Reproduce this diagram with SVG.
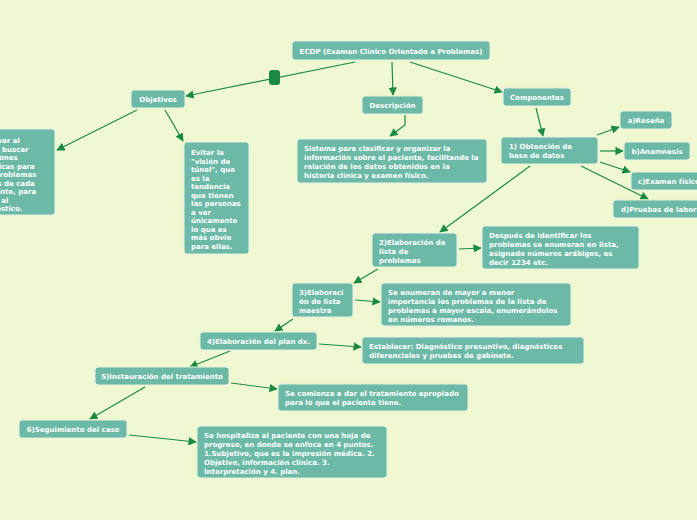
<svg xmlns="http://www.w3.org/2000/svg" width="697" height="520" viewBox="0 0 697 520">
<style>
.n{fill:#6cb9a8;stroke:#e6f1e0;stroke-width:1}
text{font-family:"DejaVu Sans",Verdana,sans-serif;font-weight:bold;font-size:7px;fill:#fff}
.e{stroke:#1a8a40;stroke-width:1.2;fill:none;marker-end:url(#a)}
</style>
<defs><marker id="a" viewBox="0 0 10 10" refX="9" refY="5" markerWidth="7" markerHeight="7" orient="auto"><path d="M0,0L10,5L0,10z" fill="#1a8a40"/></marker></defs>
<rect width="697" height="520" fill="#f0f8d2"/>
<g id="edges">
<path class="e" d="M355,62L186,96"/>
<path class="e" d="M392,62L393,95"/>
<path class="e" d="M410,62L502,92"/>
<path class="e" d="M137,110L57,150"/>
<path class="e" d="M165,110L183,141"/>
<path class="e" d="M405,115L405,125L390,136"/>
<path class="e" d="M536,108L543,136"/>
<path class="e" d="M597,135L619,127"/>
<path class="e" d="M600,151L623,151"/>
<path class="e" d="M600,162L630,172"/>
<path class="e" d="M581,166L648,199"/>
<path class="e" d="M530,166L440,232"/>
<path class="e" d="M459,249L481,248"/>
<path class="e" d="M378,269L354,283"/>
<path class="e" d="M355,300L380,302"/>
<path class="e" d="M293,319L275,331"/>
<path class="e" d="M319,344L361,347"/>
<path class="e" d="M230,351L190,367"/>
<path class="e" d="M231,383L277,389"/>
<path class="e" d="M145,387L90,419"/>
<path class="e" d="M129,435L196,442"/>
</g>
<rect x="269" y="70" width="11" height="15" rx="3" fill="#1a8a40"/>
<g id="ecop"><rect class="n" x="292" y="41" width="198" height="19" rx="3"/><text x="391" y="53.5" text-anchor="middle">ECOP (Examen Clínico Orientado a Problemas)</text></g>
<g id="objetivos"><rect class="n" x="131" y="90" width="54" height="18" rx="3"/><text x="158" y="102" text-anchor="middle">Objetivos</text></g>
<g id="descripcion"><rect class="n" x="362" y="96" width="61" height="18" rx="3"/><text x="392.5" y="108" text-anchor="middle">Descripción</text></g>
<g id="componentes"><rect class="n" x="503" y="88" width="68" height="18" rx="3"/><text x="537" y="100" text-anchor="middle">Componentes</text></g>
<g id="motivar"><rect class="n" x="-10" y="129" width="65" height="86" rx="3"/><text><tspan x="-20" y="143">Motivar al</tspan><tspan x="-36" y="151.5">médico a buscar</tspan><tspan x="-24" y="160">soluciones</tspan><tspan x="-29" y="168.5">específicas para</tspan><tspan x="-19" y="177">los problemas</tspan><tspan x="-31" y="185.5">médicos de cada</tspan><tspan x="-21" y="194">paciente, para</tspan><tspan x="-24" y="202.5">llegar al</tspan><tspan x="-26" y="211">diagnóstico.</tspan></text></g>
<g id="evitar"><rect class="n" x="184" y="142" width="65" height="112" rx="3"/><text><tspan x="191" y="155">Evitar la</tspan><tspan x="191" y="163.5">"visión de</tspan><tspan x="191" y="172">túnel", que</tspan><tspan x="191" y="180.5">es la</tspan><tspan x="191" y="189">tendencia</tspan><tspan x="191" y="197.5">que tienen</tspan><tspan x="191" y="206">las personas</tspan><tspan x="191" y="214.5">a ver</tspan><tspan x="191" y="223">únicamente</tspan><tspan x="191" y="231.5">lo que es</tspan><tspan x="191" y="240">más obvio</tspan><tspan x="191" y="248.5">para ellas.</tspan></text></g>
<g id="sistema"><rect class="n" x="297" y="139" width="190" height="44" rx="3"/><text><tspan x="304" y="151">Sistema para clasificar y organizar la</tspan><tspan x="304" y="160">información sobre el paciente, facilitando la</tspan><tspan x="304" y="169">relación de los datos obtenidos en la</tspan><tspan x="304" y="178">historia clínica y examen físico.</tspan></text></g>
<g id="obtencion"><rect class="n" x="501" y="137" width="97" height="27" rx="3"/><text><tspan x="509" y="149">1) Obtención de</tspan><tspan x="509" y="158">base de datos</tspan></text></g>
<g id="resena"><rect class="n" x="620" y="111" width="52" height="18" rx="3"/><text x="646" y="123" text-anchor="middle">a)Reseña</text></g>
<g id="anamnesis"><rect class="n" x="624" y="142" width="66" height="18" rx="3"/><text x="657" y="154" text-anchor="middle">b)Anamnesis</text></g>
<g id="examen"><rect class="n" x="631" y="172" width="72" height="18" rx="3"/><text x="638" y="184">c)Examen físico</text></g>
<g id="pruebas"><rect class="n" x="613" y="200" width="90" height="18" rx="3"/><text x="621" y="212">d)Pruebas de laboratorio</text></g>
<g id="lista"><rect class="n" x="372" y="233" width="85" height="34" rx="3"/><text><tspan x="379" y="245">2)Elaboración de</tspan><tspan x="379" y="254">lista de</tspan><tspan x="379" y="263">problemas</tspan></text></g>
<g id="despues"><rect class="n" x="482" y="226" width="157" height="43" rx="3"/><text><tspan x="489" y="238">Después de identificar los</tspan><tspan x="489" y="247">problemas se enumeran en lista,</tspan><tspan x="489" y="256">asignado números arábigos, es</tspan><tspan x="489" y="265">decir 1234 etc.</tspan></text></g>
<g id="maestra"><rect class="n" x="292" y="283" width="61" height="34" rx="3"/><text><tspan x="299" y="295">3)Elaboraci</tspan><tspan x="299" y="304">ón de lista</tspan><tspan x="299" y="313">maestra</tspan></text></g>
<g id="enumeran"><rect class="n" x="381" y="283" width="190" height="43" rx="3"/><text><tspan x="388" y="295">Se enumeran de mayor a menor</tspan><tspan x="388" y="304">importancia los problemas de la lista de</tspan><tspan x="388" y="313">problemas a mayor escala, enumerándolos</tspan><tspan x="388" y="322">en números romanos.</tspan></text></g>
<g id="plan"><rect class="n" x="200" y="332" width="117" height="18" rx="3"/><text x="258.5" y="344" text-anchor="middle">4)Elaboración del plan dx.</text></g>
<g id="establecer"><rect class="n" x="362" y="337" width="222" height="27" rx="3"/><text><tspan x="369" y="349">Establecer: Diagnóstico presuntivo, diagnósticos</tspan><tspan x="369" y="358">diferenciales y pruebas de gabinete.</tspan></text></g>
<g id="instauracion"><rect class="n" x="95" y="367" width="134" height="18" rx="3"/><text x="162" y="379" text-anchor="middle">5)Instauración del tratamiento</text></g>
<g id="comienza"><rect class="n" x="278" y="384" width="190" height="27" rx="3"/><text><tspan x="285" y="396">Se comienza a dar el tratamiento apropiado</tspan><tspan x="285" y="405">para lo que el paciente tiene.</tspan></text></g>
<g id="seguimiento"><rect class="n" x="19" y="420" width="108" height="18" rx="3"/><text x="73" y="432" text-anchor="middle">6)Seguimiento del caso</text></g>
<g id="hospitaliza"><rect class="n" x="197" y="426" width="190" height="52" rx="3"/><text><tspan x="204" y="438">Se hospitaliza al paciente con una hoja de</tspan><tspan x="204" y="447">progreso, en donde se enfoca en 4 puntos.</tspan><tspan x="204" y="456">1.Subjetivo, que es la impresión médica. 2.</tspan><tspan x="204" y="465">Objetivo, información clínica. 3.</tspan><tspan x="204" y="474">Interpretación y 4. plan.</tspan></text></g>
</svg>
